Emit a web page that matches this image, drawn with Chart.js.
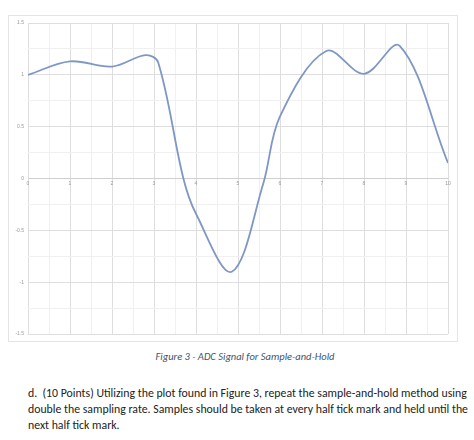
<!DOCTYPE html>
<html><head><meta charset="utf-8">
<script src="https://cdn.jsdelivr.net/npm/chart.js@4"></script>
<style>
body{margin:0;background:#fff;width:474px;height:440px;position:relative;font-family:Calibri,Carlito,"Open Sans",sans-serif;}
#box{position:absolute;left:8px;top:15px;width:450px;height:327px;border:1px solid #e4e4e4;box-sizing:border-box;}
#cap{position:absolute;left:0;width:474px;top:350px;text-align:center;font-style:italic;font-size:10.5px;color:#44546a;padding-left:8px;}
#q{position:absolute;left:28px;top:385px;width:440px;font-size:11.8px;line-height:16px;color:#222;}
</style></head><body>
<div id="box"><canvas id="c"></canvas></div>
<div id="cap">Figure 3 - ADC Signal for Sample-and-Hold</div>
<div id="q">d.&nbsp; (10 Points) Utilizing the plot found in Figure 3, repeat the sample-and-hold method using double the sampling rate. Samples should be taken at every half tick mark and held until the next half tick mark.</div>
<script>
const xs=[0,1,2,2.8,3.1,3.7,4,4.85,5.6,6,7.1,8,8.85,10];
const ys=[1.0,1.13,1.08,1.19,1.12,0,-0.34,-0.9,-0.05,0.6,1.23,1.01,1.28,0.15];
const xTicks=[0,1,2,3,4,5,6,7,8,9,10];
const yTicks=[-1.5,-1,-0.5,0,0.5,1,1.5];
const cv=document.getElementById('c');
cv.width=448;cv.height=325;cv.style.width='448px';cv.style.height='325px';
new Chart(cv,{type:'scatter',
data:{datasets:[{data:xs.map((x,i)=>({x,y:ys[i]})),showLine:true,borderColor:'#7f97c4',borderWidth:1.8,pointRadius:0,tension:0.35}]},
options:{responsive:false,animation:false,plugins:{legend:{display:false},tooltip:{enabled:false}},
layout:{padding:{left:0,right:9,top:7,bottom:6}},
scales:{
x:{type:'linear',min:0,max:10,position:{y:0},border:{display:false},
 ticks:{stepSize:0.5,autoSkip:false,maxRotation:0,padding:2,font:{size:5},color:'#999',callback:v=>xTicks.includes(v)?String(v):''},
 grid:{color:c=>xTicks.includes(c.tick.value)?'#dedede':'#f0f0f0',drawTicks:false}},
y:{min:-1.5,max:1.5,border:{display:false},afterFit:s=>{s.width=19},
 ticks:{stepSize:0.25,autoSkip:false,padding:4,font:{size:5},color:'#999',callback:v=>yTicks.includes(v)?String(v):''},
 grid:{color:c=>yTicks.includes(c.tick.value)?(c.tick.value===0?'#cfcfcf':'#dedede'):'#f0f0f0',drawTicks:false}}
}}});
</script></body></html>
